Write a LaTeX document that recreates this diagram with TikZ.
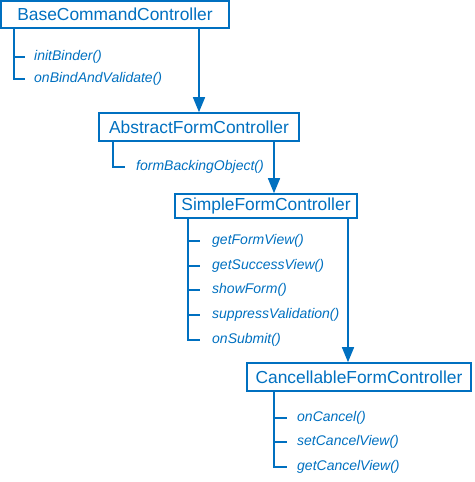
\documentclass[tikz,border=0pt]{standalone}
\usepackage{fontspec}
\setmainfont{Liberation Sans}
\usetikzlibrary{arrows.meta}

\definecolor{ctrlblue}{RGB}{0,112,192}

\begin{document}
\begin{tikzpicture}[x=1pt, y=-1pt,
    ctrl/.style={draw=ctrlblue, line width=1.6pt, text=ctrlblue, inner sep=0pt,
      font=\fontsize{17.4}{20}\selectfont},
    meth/.style={anchor=west, inner sep=0pt, text=ctrlblue,
      font=\fontsize{14}{16}\selectfont\itshape},
    tree/.style={draw=ctrlblue, line width=1.3pt},
    arr/.style={draw=ctrlblue, line width=1.5pt, -{Triangle[length=15pt, width=12pt]}}]
    \useasboundingbox (0, 0) rectangle (474, 482);

    \node [ctrl, minimum width=228, minimum height=27] (base) at (115, 14.5) {BaseCommandController};
    \node [ctrl, minimum width=200, minimum height=28] (abstract) at (199, 127) {AbstractFormController};
    \node [ctrl, minimum width=182, minimum height=24] (simple) at (266, 206) {SimpleFormController};
    \node [ctrl, minimum width=224, minimum height=28] (cancel) at (359, 377) {CancellableFormController};

    % methods of each controller
    \node [meth] (b1) at (34, 57) {initBinder()};
    \node [meth] (b2) at (34, 79) {onBindAndValidate()};

    \node [meth] (a1) at (136, 167) {formBackingObject()};

    \node [meth] (s1) at (212, 241) {getFormView()};
    \node [meth] (s2) at (212, 266) {getSuccessView()};
    \node [meth] (s3) at (212, 290) {showForm()};
    \node [meth] (s4) at (212, 315) {suppressValidation()};
    \node [meth] (s5) at (212, 340) {onSubmit()};

    \node [meth] (c1) at (297, 418) {onCancel()};
    \node [meth] (c2) at (297, 442) {setCancelView()};
    \node [meth] (c3) at (297, 467) {getCancelView()};

    \coordinate (bt) at (14, 28);
    \coordinate (at) at (113, 141);
    \coordinate (st) at (188, 218);
    \coordinate (ct) at (274, 391);

    \draw [tree] (bt |- b1) -- ([xshift=-9]b1.west);
    \draw [tree] (bt) |- ([xshift=-9]b2.west);

    \draw [tree] (at) |- ([xshift=-11]a1.west);

    \foreach \m in {s1, s2, s3, s4}
      \draw [tree] (st |- \m) -- ([xshift=-12]\m.west);
    \draw [tree] (st) |- ([xshift=-12]s5.west);

    \foreach \m in {c1, c2}
      \draw [tree] (ct |- \m) -- ([xshift=-10]\m.west);
    \draw [tree] (ct) |- ([xshift=-10]c3.west);

    % inheritance arrows
    \draw [arr] (base.south -| abstract.north) -- (abstract.north);
    \draw [arr] (abstract.south -| 274, 0) -- ([xshift=8]simple.north);
    \draw [arr] (simple.south -| 348, 0) -- ([xshift=-11]cancel.north);
\end{tikzpicture}
\end{document}
